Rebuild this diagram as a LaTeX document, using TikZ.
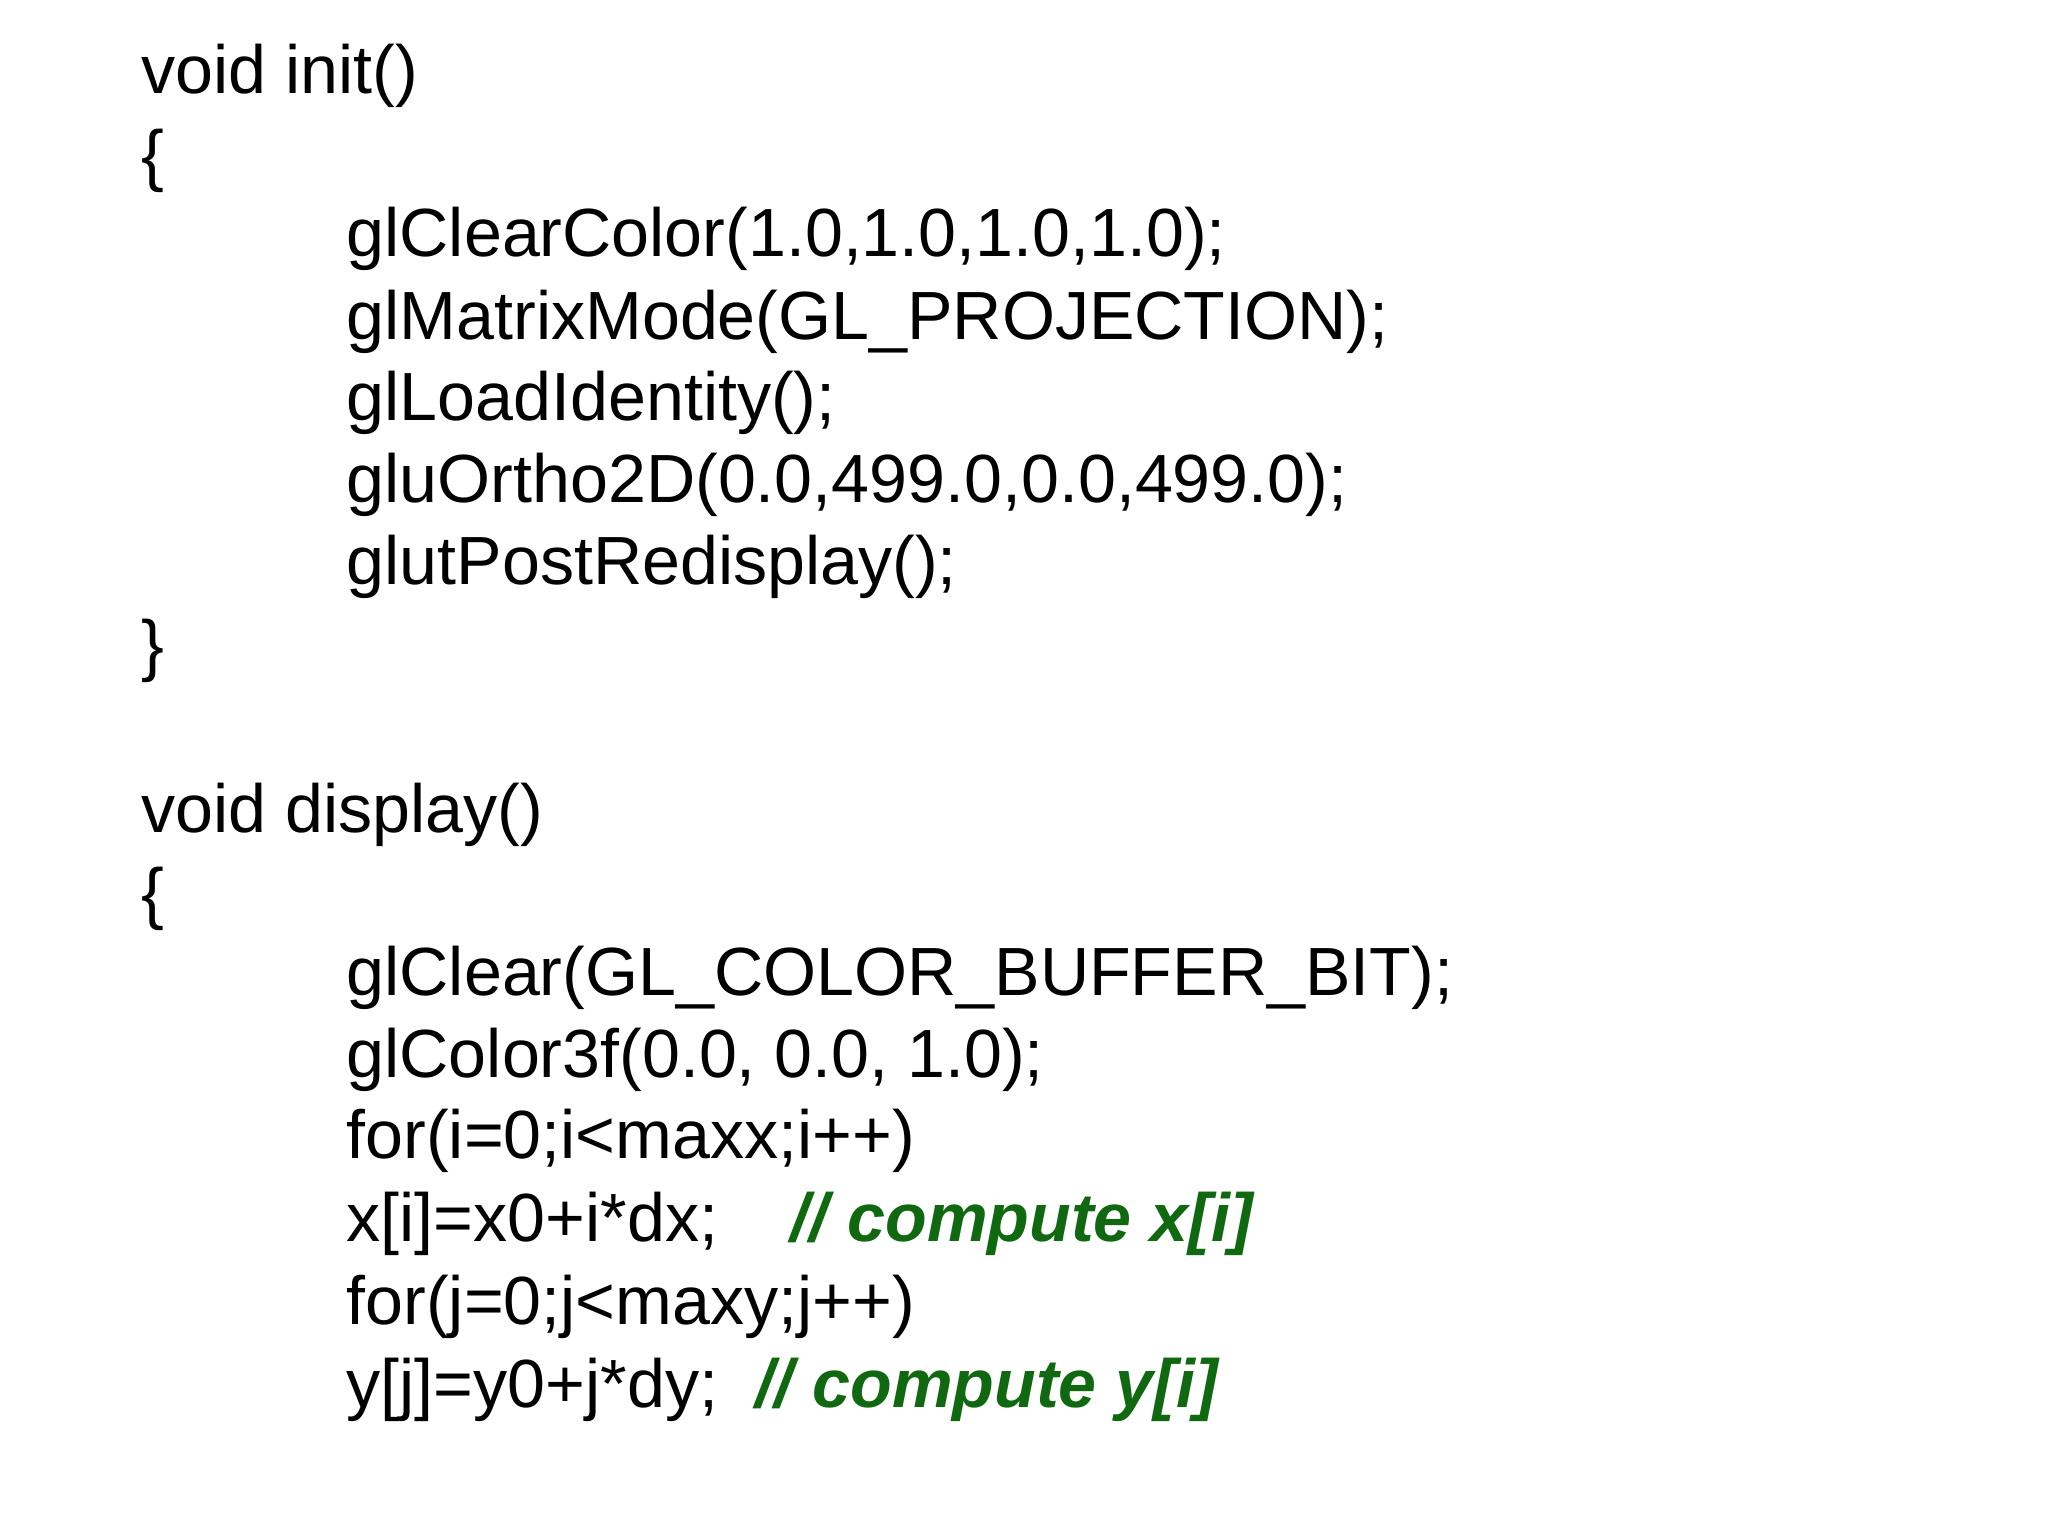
\documentclass[tikz,border=0pt]{standalone}
\usepackage{fontspec}
\setmainfont{Liberation Sans}
\definecolor{cgreen}{RGB}{16,105,16}
\begin{document}
\begin{tikzpicture}[x=1cm,y=-1cm,code/.style={anchor=base west,inner sep=0pt,font=\fontsize{19.4}{23}\selectfont},cmt/.style={code,text=cgreen,font=\fontsize{19.4}{23}\selectfont\bfseries\itshape}]
\useasboundingbox[fill=white] (0,0) rectangle (20.48,15.36);
\node[code] (l1) at (1.41,0.94) {void init()};
\node[code] (l2) at (1.41,1.79) {\{};
\node[code] (l3) at (3.46,2.57) {glClearColor(1.0,1.0,1.0,1.0);};
\node[code] (l4) at (3.46,3.40) {glMatrixMode(GL\_PROJECTION);};
\node[code] (l5) at (3.46,4.21) {glLoadIdentity();};
\node[code] (l6) at (3.46,5.03) {gluOrtho2D(0.0,499.0,0.0,499.0);};
\node[code] (l7) at (3.46,5.85) {glutPostRedisplay();};
\node[code] (l8) at (1.41,6.69) {\}};
\node[code] (l9) at (1.41,8.32) {void display()};
\node[code] (l10) at (1.41,9.17) {\{};
\node[code] (l11) at (3.46,9.95) {glClear(GL\_COLOR\_BUFFER\_BIT);};
\node[code] (l12) at (3.46,10.77) {glColor3f(0.0, 0.0, 1.0);};
\node[code] (l13) at (3.46,11.58) {for(i=0;i<maxx;i++)};
\node[code] (l14) at (3.46,12.41) {x[i]=x0+i*dx;};
\node[cmt] (c1) at (7.90,12.41) {// compute x[i]};
\node[code] (l15) at (3.46,13.24) {for(j=0;j<maxy;j++)};
\node[code] (l16) at (3.46,14.07) {y[j]=y0+j*dy;};
\node[cmt] (c2) at (7.55,14.07) {// compute y[i]};
\end{tikzpicture}
\end{document}
